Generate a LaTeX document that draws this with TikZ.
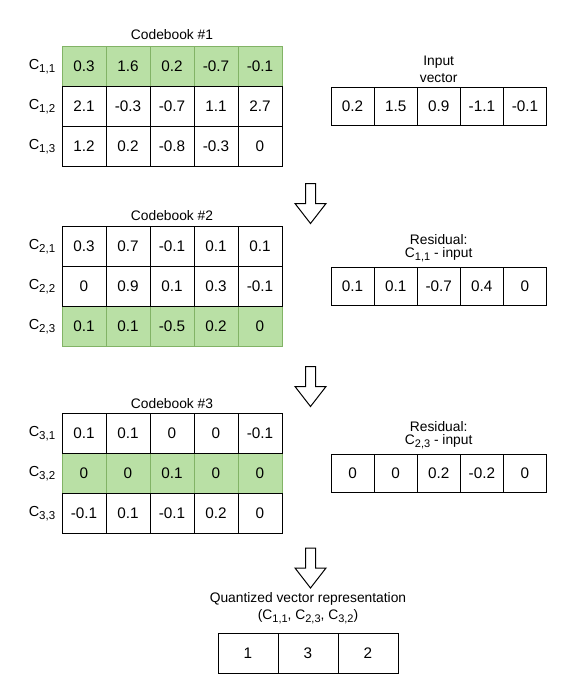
\documentclass[tikz,border=0pt]{standalone}
\usepackage{fontspec}
\setmainfont{Liberation Sans}
\definecolor{selfill}{HTML}{B9E0A5}
\definecolor{selstroke}{HTML}{82B366}
\newcommand{\mysub}[1]{\raisebox{-0.4ex}{\fontsize{11}{12}\selectfont #1}}
\newcommand{\mysubl}[1]{\raisebox{-0.4ex}{\fontsize{11.5}{12}\selectfont #1}}
% \cbrow{name}{x0}{ycenter}{style}{values}
\newcommand{\cbrow}[5]{%
  \foreach \v [count=\j] in {#5}
    \node[#4] (#1-\j) at ({#2+44*(\j-0.5)}, #3) {\v};}
\newcommand{\vecrow}[4]{%
  \foreach \v [count=\j] in {#4}
    \node[vcell] (#1-\j) at ({#2+43.1*(\j-0.5)}, #3) {\v};}
\newcommand{\blockarrow}[2]{%
  \draw[barrow] (#1-5,#2) -- (#1+5,#2) -- (#1+5,#2+20) -- (#1+15.5,#2+20)
    -- (#1,#2+40) -- (#1-15.5,#2+20) -- (#1-5,#2+20) -- cycle;}
\begin{document}
\begin{tikzpicture}[x=1pt,y=-1pt,line width=1pt,
  cell/.style={draw=black, fill=white, minimum width=44pt, minimum height=40pt,
    inner sep=0pt, outer sep=0pt, font=\fontsize{15.3}{18}\selectfont},
  selcell/.style={cell, draw=selstroke, fill=selfill},
  vcell/.style={draw=black, fill=white, minimum width=43.1pt, minimum height=38pt,
    inner sep=0pt, outer sep=0pt, font=\fontsize{15.3}{18}\selectfont},
  qcell/.style={draw=black, fill=white, minimum width=60pt, minimum height=40pt,
    inner sep=0pt, outer sep=0pt, font=\fontsize{15.3}{18}\selectfont},
  txt/.style={font=\fontsize{13.8}{16}\selectfont, inner sep=0pt, align=center},
  rowlabel/.style={font=\fontsize{14.5}{16}\selectfont, inner sep=0pt},
  barrow/.style={draw=black, fill=white, line width=1pt, line join=miter}]
\useasboundingbox (0,0) rectangle (567,694);
\fill[white] (0,0) rectangle (567,694);

% ---------- Codebook #1 ----------
\node[txt] (t1) at (172,35) {Codebook \#1};
\cbrow{a1}{62}{66}{selcell}{0.3,1.6,0.2,-0.7,-0.1}
\cbrow{a2}{62}{106}{cell}{2.1,-0.3,-0.7,1.1,2.7}
\cbrow{a3}{62}{146}{cell}{1.2,0.2,-0.8,-0.3,0}
\node[rowlabel] (la1) at (42,67) {C\mysubl{1,1}};
\node[rowlabel] (la2) at (42,107) {C\mysubl{1,2}};
\node[rowlabel] (la3) at (42,147) {C\mysubl{1,3}};
\node[txt] (in1) at (438.7,62) {Input};
\node[txt] (in2) at (438.7,78) {vector};
\vecrow{iv}{331}{106}{0.2,1.5,0.9,-1.1,-0.1}

\blockarrow{310.5}{183.5}

% ---------- Codebook #2 ----------
\node[txt] (t2) at (172,216) {Codebook \#2};
\cbrow{b3}{62}{326}{selcell}{0.1,0.1,-0.5,0.2,0}
\cbrow{b1}{62}{246}{cell}{0.3,0.7,-0.1,0.1,0.1}
\cbrow{b2}{62}{286}{cell}{0,0.9,0.1,0.3,-0.1}
\node[rowlabel] (lb1) at (42,247) {C\mysubl{2,1}};
\node[rowlabel] (lb2) at (42,287) {C\mysubl{2,2}};
\node[rowlabel] (lb3) at (42,327) {C\mysubl{2,3}};
\node[txt] (r1a) at (438.7,239.5) {Residual:};
\node[txt] (r1b) at (438.7,255) {C\mysub{1,1} - input};
\vecrow{rv}{331}{286}{0.1,0.1,-0.7,0.4,0}

\blockarrow{310.5}{366.5}

% ---------- Codebook #3 ----------
\node[txt] (t3) at (172,404) {Codebook \#3};
\cbrow{c2}{62}{473}{selcell}{0,0,0.1,0,0}
\cbrow{c1}{62}{433}{cell}{0.1,0.1,0,0,-0.1}
\cbrow{c3}{62}{513}{cell}{-0.1,0.1,-0.1,0.2,0}
\node[rowlabel] (lc1) at (42,434) {C\mysubl{3,1}};
\node[rowlabel] (lc2) at (42,474) {C\mysubl{3,2}};
\node[rowlabel] (lc3) at (42,514) {C\mysubl{3,3}};
\node[txt] (r2a) at (438.7,426.5) {Residual:};
\node[txt] (r2b) at (438.7,442) {C\mysub{2,3} - input};
\vecrow{sv}{331}{473}{0,0,0.2,-0.2,0}

\blockarrow{310.5}{548}

% ---------- Result ----------
\node[txt] (q1) at (308,599) {Quantized vector representation};
\node[txt] (q2) at (308,617) {(C\mysub{1,1}, C\mysub{2,3}, C\mysub{3,2})};
\node[qcell] (qa) at (248,653) {1};
\node[qcell] (qb) at (308,653) {3};
\node[qcell] (qc) at (368,653) {2};
\end{tikzpicture}
\end{document}
